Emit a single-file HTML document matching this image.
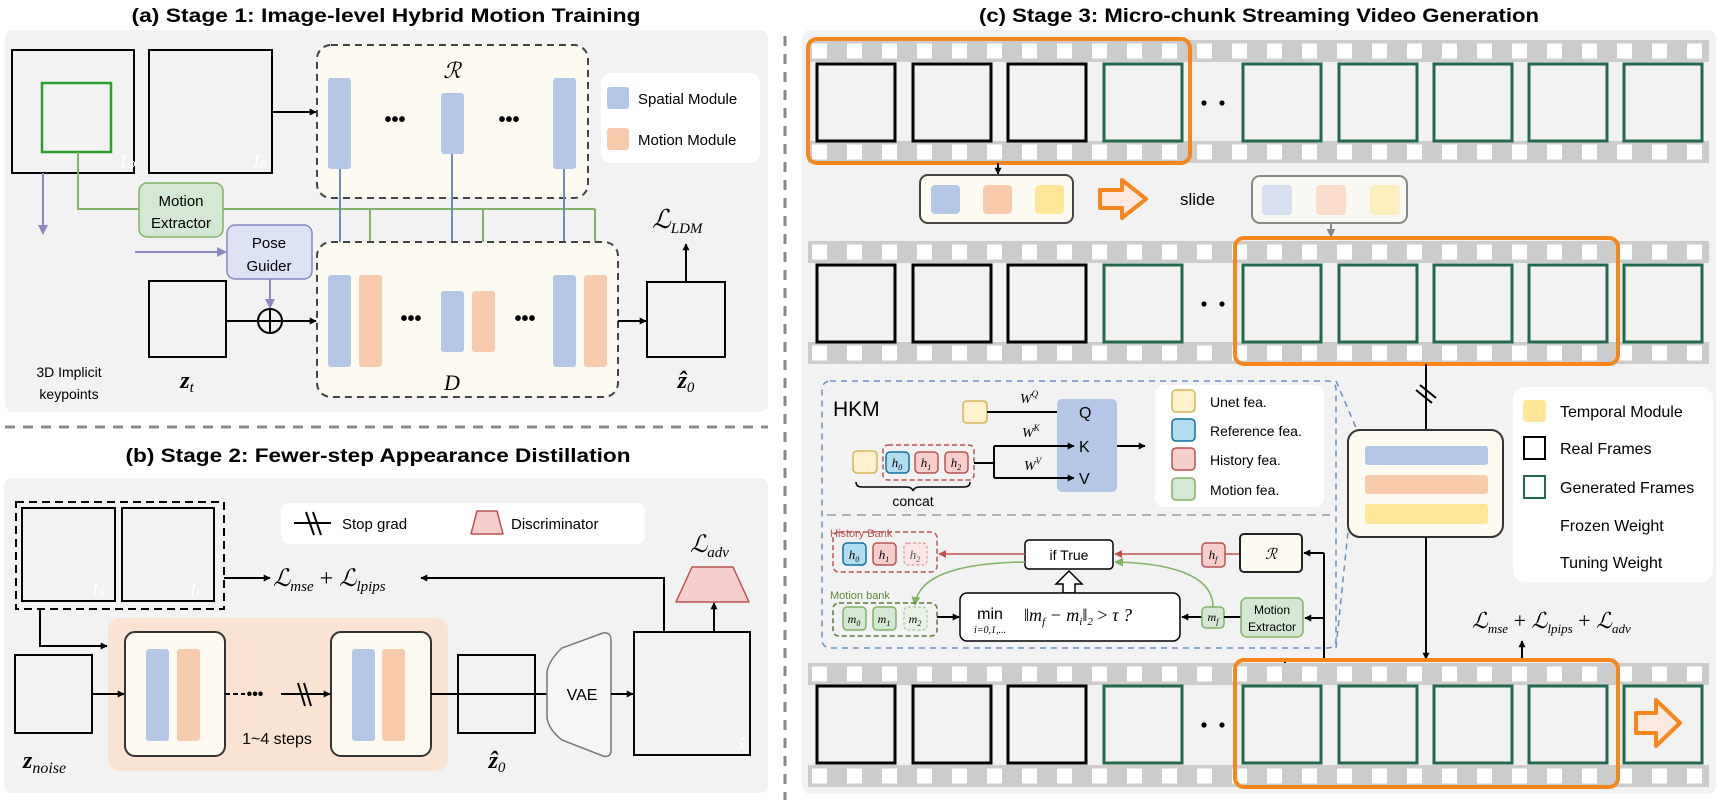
<!DOCTYPE html>
<html><head><meta charset="utf-8">
<style>
html,body{margin:0;padding:0;background:#fff;}
svg{display:block;}
text{font-family:"Liberation Sans",sans-serif;}
.m{font-family:"Liberation Serif",serif;font-style:italic;}
</style></head>
<body>
<svg width="1721" height="805" viewBox="0 0 1721 805" xmlns="http://www.w3.org/2000/svg">
<defs>
<marker id="ak" viewBox="0 0 10 10" refX="9" refY="5" markerWidth="7" markerHeight="7" orient="auto-start-reverse" markerUnits="userSpaceOnUse"><path d="M0,0L10,5L0,10z" fill="#000"/></marker>
<marker id="ab" viewBox="0 0 10 10" refX="9" refY="5" markerWidth="9" markerHeight="9" orient="auto" markerUnits="userSpaceOnUse"><path d="M0,0L10,5L0,10z" fill="#6c8ebf"/></marker>
<marker id="ag" viewBox="0 0 10 10" refX="9" refY="5" markerWidth="9" markerHeight="9" orient="auto" markerUnits="userSpaceOnUse"><path d="M0,0L10,5L0,10z" fill="#82b366"/></marker>
<marker id="ap" viewBox="0 0 10 10" refX="9" refY="5" markerWidth="10" markerHeight="10" orient="auto" markerUnits="userSpaceOnUse"><path d="M0,0L10,5L0,10z" fill="#8c88c2"/></marker>
<marker id="ar" viewBox="0 0 10 10" refX="9" refY="5" markerWidth="8" markerHeight="8" orient="auto" markerUnits="userSpaceOnUse"><path d="M0,0L10,5L0,10z" fill="#c0504d"/></marker>
<marker id="agr" viewBox="0 0 10 10" refX="9" refY="5" markerWidth="9" markerHeight="9" orient="auto" markerUnits="userSpaceOnUse"><path d="M0,0L10,5L0,10z" fill="#888"/></marker>
<g id="frames">
<rect x="817" y="0" width="78" height="77" fill="none" stroke="#000" stroke-width="3"/>
<rect x="913" y="0" width="78" height="77" fill="none" stroke="#000" stroke-width="3"/>
<rect x="1008" y="0" width="78" height="77" fill="none" stroke="#000" stroke-width="3"/>
<rect x="1104" y="0" width="78" height="77" fill="none" stroke="#22684a" stroke-width="3"/>
<circle cx="1204" cy="39" r="2.6" fill="#000"/><circle cx="1222" cy="39" r="2.6" fill="#000"/>
<rect x="1243" y="0" width="78" height="77" fill="none" stroke="#22684a" stroke-width="3"/>
<rect x="1339" y="0" width="78" height="77" fill="none" stroke="#22684a" stroke-width="3"/>
<rect x="1434" y="0" width="78" height="77" fill="none" stroke="#22684a" stroke-width="3"/>
<rect x="1529" y="0" width="78" height="77" fill="none" stroke="#22684a" stroke-width="3"/>
<rect x="1624" y="0" width="78" height="77" fill="none" stroke="#22684a" stroke-width="3"/>
</g>
<g id="band">
<rect x="808" y="0" width="901" height="22" fill="#cccccc"/>
<line x1="812" y1="11" x2="1709" y2="11" stroke="#fff" stroke-width="15" stroke-dasharray="15 20"/>
</g>
</defs>

<!-- Titles -->
<text x="386" y="22" text-anchor="middle" font-size="19" font-weight="bold" textLength="509" lengthAdjust="spacingAndGlyphs">(a) Stage 1: Image-level Hybrid Motion Training</text>
<text x="378" y="462" text-anchor="middle" font-size="19" font-weight="bold" textLength="505" lengthAdjust="spacingAndGlyphs">(b) Stage 2: Fewer-step Appearance Distillation</text>
<text x="1259" y="22" text-anchor="middle" font-size="19" font-weight="bold" textLength="560" lengthAdjust="spacingAndGlyphs">(c) Stage 3: Micro-chunk Streaming Video Generation</text>

<!-- separators -->
<line x1="5" y1="427" x2="768" y2="427" stroke="#888" stroke-width="3" stroke-dasharray="10 8"/>
<line x1="785" y1="36" x2="785" y2="800" stroke="#888" stroke-width="3" stroke-dasharray="10 8"/>

<!-- Panel backgrounds -->
<rect x="5" y="30" width="763" height="382" rx="8" fill="#f2f2f2"/>
<rect x="4" y="478" width="764" height="315" rx="8" fill="#f2f2f2"/>
<rect x="802" y="30" width="914" height="764" rx="8" fill="#f2f2f2"/>

<!-- ===== Panel A ===== -->
<rect x="12" y="50" width="122" height="123" fill="none" stroke="#000" stroke-width="2"/>
<rect x="42" y="83" width="69" height="69" fill="none" stroke="#2ca02c" stroke-width="2.5"/>
<text x="120" y="168" class="m" font-size="20" fill="#fff">I<tspan font-size="12">D</tspan></text>
<rect x="149" y="50" width="123" height="123" fill="none" stroke="#000" stroke-width="2"/>
<text x="253" y="168" class="m" font-size="20" fill="#fff">I<tspan font-size="12">R</tspan></text>
<line x1="272" y1="112" x2="316" y2="112" stroke="#000" stroke-width="2" marker-end="url(#ak)"/>

<rect x="317" y="45" width="271" height="153" rx="14" fill="#fdfaf2" stroke="#444" stroke-width="2" stroke-dasharray="7 5"/>
<text x="452" y="78" text-anchor="middle" font-family="DejaVu Serif" font-size="22" font-style="italic">ℛ</text>
<rect x="328" y="78" width="23" height="91" rx="3" fill="#b4c7e7"/>
<rect x="441" y="93" width="23" height="61" rx="3" fill="#b4c7e7"/>
<rect x="553" y="78" width="23" height="91" rx="3" fill="#b4c7e7"/>
<text x="395" y="126" text-anchor="middle" font-size="20" font-weight="bold">•••</text>
<text x="509" y="126" text-anchor="middle" font-size="20" font-weight="bold">•••</text>
<!-- dots drawn smaller -->

<rect x="601" y="73" width="159" height="90" rx="10" fill="#fff"/>
<rect x="607" y="87" width="22" height="22" rx="3" fill="#b4c7e7"/>
<text x="638" y="104" font-size="15">Spatial Module</text>
<rect x="607" y="128" width="22" height="22" rx="3" fill="#f8cbad"/>
<text x="638" y="145" font-size="15">Motion Module</text>

<!-- green lines -->
<polyline points="78,152 78,209 139,209" fill="none" stroke="#82b366" stroke-width="2"/>
<line x1="223" y1="209" x2="595" y2="209" stroke="#82b366" stroke-width="2"/>
<line x1="370" y1="209" x2="370" y2="274" stroke="#82b366" stroke-width="2" marker-end="url(#ag)"/>
<line x1="483" y1="209" x2="483" y2="290" stroke="#82b366" stroke-width="2" marker-end="url(#ag)"/>
<line x1="595" y1="209" x2="595" y2="274" stroke="#82b366" stroke-width="2" marker-end="url(#ag)"/>
<!-- blue lines -->
<line x1="340" y1="169" x2="340" y2="274" stroke="#6c8ebf" stroke-width="2" marker-end="url(#ab)"/>
<line x1="452" y1="154" x2="452" y2="290" stroke="#6c8ebf" stroke-width="2" marker-end="url(#ab)"/>
<line x1="564" y1="169" x2="564" y2="274" stroke="#6c8ebf" stroke-width="2" marker-end="url(#ab)"/>

<rect x="139" y="183" width="84" height="54" rx="8" fill="#d5e8d4" stroke="#82b366" stroke-width="1.5"/>
<text x="181" y="206" text-anchor="middle" font-size="15">Motion</text>
<text x="181" y="228" text-anchor="middle" font-size="15">Extractor</text>

<line x1="43" y1="173" x2="43" y2="234" stroke="#8c88c2" stroke-width="2" marker-end="url(#ap)"/>
<line x1="135" y1="252" x2="226" y2="252" stroke="#8c88c2" stroke-width="2" marker-end="url(#ap)"/>
<rect x="227" y="225" width="85" height="54" rx="8" fill="#dde3f5" stroke="#8c88c2" stroke-width="1.5"/>
<text x="269" y="248" text-anchor="middle" font-size="15">Pose</text>
<text x="269" y="271" text-anchor="middle" font-size="15">Guider</text>
<line x1="270" y1="279" x2="270" y2="308" stroke="#8c88c2" stroke-width="2" marker-end="url(#ap)"/>

<rect x="149" y="281" width="77" height="76" fill="none" stroke="#000" stroke-width="2"/>
<line x1="226" y1="321" x2="316" y2="321" stroke="#000" stroke-width="2" marker-end="url(#ak)"/>
<ellipse cx="270" cy="321" rx="12" ry="12" fill="none" stroke="#000" stroke-width="2"/>
<line x1="270" y1="309" x2="270" y2="333" stroke="#000" stroke-width="2"/>

<rect x="317" y="242" width="301" height="155" rx="14" fill="#fdfaf2" stroke="#444" stroke-width="2" stroke-dasharray="7 5"/>
<rect x="328" y="275" width="23" height="92" rx="3" fill="#b4c7e7"/>
<rect x="359" y="275" width="23" height="92" rx="3" fill="#f8cbad"/>
<rect x="441" y="291" width="23" height="61" rx="3" fill="#b4c7e7"/>
<rect x="472" y="291" width="23" height="61" rx="3" fill="#f8cbad"/>
<rect x="553" y="275" width="23" height="92" rx="3" fill="#b4c7e7"/>
<rect x="584" y="275" width="23" height="92" rx="3" fill="#f8cbad"/>
<text x="411" y="325" text-anchor="middle" font-size="20" font-weight="bold">•••</text>
<text x="525" y="325" text-anchor="middle" font-size="20" font-weight="bold">•••</text>
<text x="452" y="390" text-anchor="middle" class="m" font-size="22">D</text>

<line x1="618" y1="321" x2="646" y2="321" stroke="#000" stroke-width="2" marker-end="url(#ak)"/>
<rect x="647" y="282" width="78" height="75" fill="none" stroke="#000" stroke-width="2"/>
<line x1="686" y1="282" x2="686" y2="244" stroke="#000" stroke-width="2" marker-end="url(#ak)"/>
<text x="652" y="228" class="m" font-size="26">ℒ<tspan font-size="15" dy="5">LDM</tspan></text>

<text x="69" y="377" text-anchor="middle" font-size="14">3D Implicit</text>
<text x="69" y="399" text-anchor="middle" font-size="14">keypoints</text>
<text x="187" y="388" text-anchor="middle" class="m" font-size="24" font-weight="bold">z<tspan font-size="15" dy="4" font-weight="normal">t</tspan></text>
<text x="686" y="388" text-anchor="middle" class="m" font-size="24" font-weight="bold">ẑ<tspan font-size="15" dy="4" font-weight="normal">0</tspan></text>

<!-- ===== Panel B ===== -->
<rect x="16" y="502" width="208" height="107" fill="none" stroke="#000" stroke-width="2" stroke-dasharray="8 5"/>
<rect x="22" y="508" width="93" height="93" fill="none" stroke="#000" stroke-width="2"/>
<rect x="122" y="508" width="92" height="93" fill="none" stroke="#000" stroke-width="2"/>
<text x="92" y="596" class="m" font-size="18" fill="#fff">I<tspan font-size="11">R</tspan></text>
<text x="190" y="596" class="m" font-size="18" fill="#fff">I<tspan font-size="11">D</tspan></text>
<line x1="224" y1="578" x2="270" y2="578" stroke="#000" stroke-width="2" marker-end="url(#ak)"/>
<text x="273" y="586" class="m" font-size="24">ℒ<tspan font-size="15" dy="5">mse</tspan><tspan dy="-5" font-style="normal"> + </tspan>ℒ<tspan font-size="15" dy="5">lpips</tspan></text>
<polyline points="664,632 664,578 421,578" fill="none" stroke="#000" stroke-width="2" marker-end="url(#ak)"/>

<rect x="281" y="503" width="364" height="41" rx="8" fill="#fff"/>
<line x1="294" y1="523" x2="331" y2="523" stroke="#000" stroke-width="2"/>
<line x1="306" y1="512" x2="314" y2="535" stroke="#000" stroke-width="2"/>
<line x1="313" y1="512" x2="321" y2="535" stroke="#000" stroke-width="2"/>
<text x="342" y="529" font-size="15">Stop grad</text>
<path d="M477,511 L497,511 L503,534 L471,534 Z" fill="#f8cecc" stroke="#b85450" stroke-width="1.5" stroke-linejoin="round"/>
<text x="511" y="529" font-size="15">Discriminator</text>

<polyline points="40,609 40,646 107,646" fill="none" stroke="#000" stroke-width="2" marker-end="url(#ak)"/>
<rect x="108" y="618" width="340" height="153" rx="12" fill="#fbe3d3"/>
<rect x="15" y="655" width="77" height="78" fill="none" stroke="#000" stroke-width="2"/>
<line x1="92" y1="694" x2="124" y2="694" stroke="#000" stroke-width="2" marker-end="url(#ak)"/>
<rect x="125" y="632" width="100" height="124" rx="10" fill="#fdfaf2" stroke="#333" stroke-width="2"/>
<rect x="146" y="649" width="23" height="92" rx="3" fill="#b4c7e7"/>
<rect x="177" y="649" width="23" height="92" rx="3" fill="#f8cbad"/>
<line x1="225" y1="694" x2="245" y2="694" stroke="#000" stroke-width="2" stroke-dasharray="5 3"/>
<text x="255" y="699" text-anchor="middle" font-size="16" font-weight="bold">•••</text>
<line x1="281" y1="694" x2="330" y2="694" stroke="#000" stroke-width="2" marker-end="url(#ak)"/>
<line x1="298" y1="683" x2="305" y2="706" stroke="#000" stroke-width="2"/>
<line x1="304" y1="683" x2="311" y2="706" stroke="#000" stroke-width="2"/>
<rect x="331" y="632" width="100" height="124" rx="10" fill="#fdfaf2" stroke="#333" stroke-width="2"/>
<rect x="352" y="649" width="23" height="92" rx="3" fill="#b4c7e7"/>
<rect x="382" y="649" width="23" height="92" rx="3" fill="#f8cbad"/>
<text x="277" y="744" text-anchor="middle" font-size="16">1~4 steps</text>

<line x1="431" y1="694" x2="548" y2="694" stroke="#000" stroke-width="2"/>
<rect x="458" y="655" width="77" height="78" fill="none" stroke="#000" stroke-width="2"/>
<path d="M547,672 Q549,660 562,648 L603,633 Q611,632 611,640 L611,750 Q611,758 603,756 L562,740 Q549,730 547,718 Z" fill="#f6f6f6" stroke="#777" stroke-width="1.5"/>
<text x="582" y="700" text-anchor="middle" font-size="16">VAE</text>
<line x1="611" y1="694" x2="633" y2="694" stroke="#000" stroke-width="2" marker-end="url(#ak)"/>
<rect x="634" y="632" width="116" height="123" fill="none" stroke="#000" stroke-width="2"/>
<text x="738" y="750" class="m" font-size="18" fill="#fff">x̂</text>
<line x1="714" y1="632" x2="714" y2="603" stroke="#000" stroke-width="2" marker-end="url(#ak)"/>
<path d="M692,567 L733,567 L749,602 L676,602 Z" fill="#f8cecc" stroke="#b85450" stroke-width="1.5" stroke-linejoin="round"/>
<text x="690" y="552" class="m" font-size="24">ℒ<tspan font-size="15" dy="5">adv</tspan></text>

<text x="23" y="768" class="m" font-size="24" font-weight="bold">z<tspan font-size="16" dy="5" font-weight="normal">noise</tspan></text>
<text x="497" y="768" text-anchor="middle" class="m" font-size="24" font-weight="bold">ẑ<tspan font-size="15" dy="4" font-weight="normal">0</tspan></text>

<!-- ===== Panel C ===== -->
<!-- strip 1 -->
<use href="#band" y="40"/><use href="#band" y="141"/>
<use href="#frames" y="64"/>
<rect x="808" y="39" width="382" height="124" rx="9" fill="none" stroke="#f7861c" stroke-width="4"/>
<line x1="998" y1="163" x2="998" y2="174" stroke="#000" stroke-width="2" marker-end="url(#ak)"/>
<rect x="920" y="175" width="153" height="48" rx="8" fill="#fdfaf2" stroke="#444" stroke-width="2"/>
<rect x="931" y="185" width="29" height="29" rx="4" fill="#b4c7e7"/>
<rect x="983" y="185" width="29" height="29" rx="4" fill="#f8cbad"/>
<rect x="1035" y="185" width="29" height="29" rx="4" fill="#ffe699"/>
<path d="M1100,190 L1122,190 L1122,180 L1146,199 L1122,218 L1122,208 L1100,208 Z" fill="#fde9e0" stroke="#f7861c" stroke-width="4" stroke-linejoin="round"/>
<text x="1180" y="205" font-size="17">slide</text>
<rect x="1252" y="176" width="155" height="47" rx="8" fill="#faf8f3" stroke="#888" stroke-width="2"/>
<rect x="1262" y="185" width="30" height="30" rx="4" fill="#d6dff0"/>
<rect x="1316" y="185" width="30" height="30" rx="4" fill="#f9dcca"/>
<rect x="1370" y="185" width="30" height="30" rx="4" fill="#fdeec0"/>
<line x1="1331" y1="223" x2="1331" y2="237" stroke="#888" stroke-width="2" marker-end="url(#agr)"/>

<!-- strip 2 -->
<use href="#band" y="241"/><use href="#band" y="342"/>
<use href="#frames" y="265"/>
<rect x="1235" y="238" width="383" height="126" rx="9" fill="none" stroke="#f7861c" stroke-width="4"/>

<!-- HKM -->
<rect x="822" y="381" width="514" height="267" rx="8" fill="none" stroke="#6c8ebf" stroke-width="1.5" stroke-dasharray="6 5"/>
<line x1="1336" y1="381" x2="1363" y2="444" stroke="#6c8ebf" stroke-width="1.5" stroke-dasharray="6 5"/>
<line x1="1336" y1="648" x2="1356" y2="454" stroke="#6c8ebf" stroke-width="1.5" stroke-dasharray="6 5"/>
<text x="833" y="416" font-size="21">HKM</text>
<rect x="963" y="401" width="24" height="22" rx="4" fill="#fff2cc" stroke="#d6b656" stroke-width="1.5"/>
<line x1="987" y1="412" x2="1074" y2="412" stroke="#000" stroke-width="2" marker-end="url(#ak)"/>
<text x="1020" y="403" class="m" font-size="14">W<tspan font-size="9" dy="-6">Q</tspan></text>
<rect x="1057" y="399" width="60" height="93" rx="5" fill="#b4c7e7"/>
<text x="1079" y="418" font-size="16">Q</text>
<text x="1079" y="452" font-size="16">K</text>
<text x="1079" y="484" font-size="16">V</text>
<rect x="853" y="451" width="24" height="22" rx="4" fill="#fff2cc" stroke="#d6b656" stroke-width="1.5"/>
<rect x="883" y="445" width="91" height="35" rx="5" fill="none" stroke="#b85450" stroke-width="1.5" stroke-dasharray="5 3"/>
<rect x="886" y="452" width="23" height="21" rx="4" fill="#b1ddf0" stroke="#10739e" stroke-width="1.5"/>
<rect x="915" y="452" width="23" height="21" rx="4" fill="#f8cecc" stroke="#b85450" stroke-width="1.5"/>
<rect x="945" y="452" width="23" height="21" rx="4" fill="#f8cecc" stroke="#b85450" stroke-width="1.5"/>
<text x="897" y="467" text-anchor="middle" class="m" font-size="13">h<tspan font-size="8" dy="3">0</tspan></text>
<text x="926" y="467" text-anchor="middle" class="m" font-size="13">h<tspan font-size="8" dy="3">1</tspan></text>
<text x="956" y="467" text-anchor="middle" class="m" font-size="13">h<tspan font-size="8" dy="3">2</tspan></text>
<polyline points="974,463 994,463" fill="none" stroke="#000" stroke-width="2"/>
<polyline points="994,446 994,478" fill="none" stroke="#000" stroke-width="2"/>
<line x1="994" y1="446" x2="1074" y2="446" stroke="#000" stroke-width="2" marker-end="url(#ak)"/>
<line x1="994" y1="478" x2="1074" y2="478" stroke="#000" stroke-width="2" marker-end="url(#ak)"/>
<text x="1022" y="437" class="m" font-size="14">W<tspan font-size="9" dy="-6">K</tspan></text>
<text x="1024" y="470" class="m" font-size="14">W<tspan font-size="9" dy="-6">V</tspan></text>
<path d="M856,482 Q856,487 862,487 L906,487 Q912,487 913,491 Q914,487 920,487 L964,487 Q970,487 970,482" fill="none" stroke="#000" stroke-width="1.5"/>
<text x="913" y="506" text-anchor="middle" font-size="14">concat</text>
<line x1="1117" y1="446" x2="1145" y2="446" stroke="#000" stroke-width="2" marker-end="url(#ak)"/>

<rect x="1155" y="385" width="169" height="122" rx="9" fill="#fff"/>
<rect x="1172" y="390" width="23" height="22" rx="4" fill="#fff2cc" stroke="#d6b656" stroke-width="1.5"/>
<rect x="1172" y="419" width="23" height="22" rx="4" fill="#b1ddf0" stroke="#10739e" stroke-width="1.5"/>
<rect x="1172" y="448" width="23" height="22" rx="4" fill="#f8cecc" stroke="#b85450" stroke-width="1.5"/>
<rect x="1172" y="478" width="23" height="22" rx="4" fill="#d5e8d4" stroke="#82b366" stroke-width="1.5"/>
<text x="1210" y="407" font-size="14">Unet fea.</text>
<text x="1210" y="436" font-size="14">Reference fea.</text>
<text x="1210" y="465" font-size="14">History fea.</text>
<text x="1210" y="495" font-size="14">Motion fea.</text>

<line x1="827" y1="515" x2="1330" y2="515" stroke="#999" stroke-width="1.5" stroke-dasharray="9 6"/>

<text x="830" y="537" font-size="11" fill="#b85450">History Bank</text>
<rect x="833" y="532" width="104" height="40" rx="6" fill="none" stroke="#b85450" stroke-width="1.5" stroke-dasharray="5 3"/>
<rect x="843" y="543" width="23" height="22" rx="4" fill="#b1ddf0" stroke="#10739e" stroke-width="1.5"/>
<rect x="873" y="543" width="23" height="22" rx="4" fill="#f8cecc" stroke="#b85450" stroke-width="1.5"/>
<rect x="904" y="543" width="23" height="22" rx="4" fill="#fbe6e5" stroke="#d89a98" stroke-width="1.2" stroke-dasharray="3 2"/>
<text x="854" y="559" text-anchor="middle" class="m" font-size="13">h<tspan font-size="8" dy="3">0</tspan></text>
<text x="884" y="559" text-anchor="middle" class="m" font-size="13">h<tspan font-size="8" dy="3">1</tspan></text>
<text x="915" y="559" text-anchor="middle" class="m" font-size="13" fill="#555">h<tspan font-size="8" dy="3">2</tspan></text>

<rect x="1025" y="540" width="88" height="29" rx="4" fill="#fff" stroke="#000" stroke-width="1.5"/>
<text x="1069" y="560" text-anchor="middle" font-size="14">if True</text>
<line x1="1025" y1="554" x2="939" y2="554" stroke="#c0504d" stroke-width="1.5" marker-end="url(#ar)"/>
<line x1="1240" y1="554" x2="1115" y2="554" stroke="#c0504d" stroke-width="1.5" marker-end="url(#ar)"/>
<rect x="1202" y="543" width="23" height="24" rx="4" fill="#f8cecc" stroke="#b85450" stroke-width="1.5"/>
<text x="1213" y="559" text-anchor="middle" class="m" font-size="13">h<tspan font-size="8" dy="3">f</tspan></text>
<rect x="1240" y="534" width="62" height="38" rx="4" fill="#fdfaf2" stroke="#222" stroke-width="2"/>
<text x="1271" y="559" text-anchor="middle" font-family="DejaVu Serif" font-size="15" font-style="italic">ℛ</text>

<path d="M1213,607 C1213,575 1170,563 1115,562" fill="none" stroke="#82b366" stroke-width="1.5" marker-end="url(#ag)"/>
<path d="M1025,562 C960,563 918,575 915,605" fill="none" stroke="#82b366" stroke-width="1.5" marker-end="url(#ag)"/>
<path d="M1063,593 L1063,584 L1056,584 L1069,571 L1082,584 L1075,584 L1075,593 Z" fill="#fff" stroke="#000" stroke-width="1.5"/>

<text x="830" y="599" font-size="11" fill="#5a8a3a">Motion bank</text>
<rect x="833" y="603" width="104" height="33" rx="6" fill="none" stroke="#5a7a3a" stroke-width="1.5" stroke-dasharray="5 3"/>
<rect x="843" y="607" width="23" height="23" rx="4" fill="#d5e8d4" stroke="#82b366" stroke-width="1.5"/>
<rect x="873" y="607" width="23" height="23" rx="4" fill="#d5e8d4" stroke="#82b366" stroke-width="1.5"/>
<rect x="904" y="607" width="23" height="23" rx="4" fill="#e8f2e7" stroke="#a8c898" stroke-width="1.2" stroke-dasharray="3 2"/>
<text x="854" y="623" text-anchor="middle" class="m" font-size="12">m<tspan font-size="8" dy="3">0</tspan></text>
<text x="884" y="623" text-anchor="middle" class="m" font-size="12">m<tspan font-size="8" dy="3">1</tspan></text>
<text x="915" y="623" text-anchor="middle" class="m" font-size="12">m<tspan font-size="8" dy="3">2</tspan></text>
<line x1="937" y1="617" x2="959" y2="617" stroke="#000" stroke-width="2" marker-end="url(#ak)"/>
<rect x="960" y="593" width="220" height="48" rx="7" fill="#fff" stroke="#000" stroke-width="1.5"/>
<text x="990" y="619" text-anchor="middle" font-family="Liberation Serif" font-size="16">min</text>
<text x="990" y="633" text-anchor="middle" class="m" font-size="10">i=0,1,...</text>
<text x="1024" y="621" class="m" font-size="18">‖m<tspan font-size="11" dy="4">f</tspan><tspan dy="-4"> − m</tspan><tspan font-size="11" dy="4">i</tspan><tspan dy="-4">‖</tspan><tspan font-size="11" dy="4">2</tspan><tspan dy="-4" font-style="normal"> &gt; </tspan>τ ?</text>
<line x1="1202" y1="617" x2="1182" y2="617" stroke="#000" stroke-width="2" marker-end="url(#ak)"/>
<rect x="1202" y="607" width="22" height="21" rx="4" fill="#d5e8d4" stroke="#82b366" stroke-width="1.5"/>
<text x="1213" y="621" text-anchor="middle" class="m" font-size="12">m<tspan font-size="8" dy="3">f</tspan></text>
<line x1="1241" y1="617" x2="1224" y2="617" stroke="#000" stroke-width="2"/>
<rect x="1241" y="598" width="62" height="39" rx="6" fill="#d5e8d4" stroke="#82b366" stroke-width="1.5"/>
<text x="1272" y="614" text-anchor="middle" font-size="12">Motion</text>
<text x="1272" y="631" text-anchor="middle" font-size="12">Extractor</text>

<polyline points="1285,686 1285,660 1324,660 1324,553" fill="none" stroke="#000" stroke-width="2"/>
<line x1="1324" y1="553" x2="1304" y2="553" stroke="#000" stroke-width="2" marker-end="url(#ak)"/>
<line x1="1324" y1="618" x2="1305" y2="618" stroke="#000" stroke-width="2" marker-end="url(#ak)"/>

<!-- temporal -->
<line x1="1426" y1="364" x2="1426" y2="430" stroke="#000" stroke-width="2"/>
<line x1="1416" y1="390" x2="1432" y2="403" stroke="#000" stroke-width="2"/>
<line x1="1420" y1="385" x2="1436" y2="398" stroke="#000" stroke-width="2"/>
<rect x="1348" y="430" width="155" height="107" rx="12" fill="#fdfaf2" stroke="#333" stroke-width="2"/>
<rect x="1365" y="446" width="123" height="19" rx="3" fill="#b4c7e7"/>
<rect x="1365" y="475" width="123" height="19" rx="3" fill="#f8cbad"/>
<rect x="1365" y="504" width="123" height="20" rx="3" fill="#ffe699"/>
<line x1="1426" y1="537" x2="1426" y2="659" stroke="#000" stroke-width="2" marker-end="url(#ak)"/>

<rect x="1513" y="387" width="200" height="195" rx="12" fill="#fff"/>
<rect x="1523" y="400" width="23" height="22" rx="3" fill="#ffe699"/>
<text x="1560" y="417" font-size="16">Temporal Module</text>
<rect x="1524" y="437" width="21" height="22" fill="none" stroke="#000" stroke-width="2"/>
<text x="1560" y="454" font-size="16">Real Frames</text>
<rect x="1524" y="476" width="21" height="22" fill="none" stroke="#22684a" stroke-width="2"/>
<text x="1560" y="493" font-size="16">Generated Frames</text>
<text x="1560" y="531" font-size="16">Frozen Weight</text>
<text x="1560" y="568" font-size="16">Tuning Weight</text>

<line x1="1522" y1="660" x2="1522" y2="641" stroke="#000" stroke-width="2" marker-end="url(#ak)"/>
<text x="1472" y="628" class="m" font-size="22">ℒ<tspan font-size="13" dy="5">mse</tspan><tspan dy="-5" font-style="normal"> + </tspan>ℒ<tspan font-size="13" dy="5">lpips</tspan><tspan dy="-5" font-style="normal"> + </tspan>ℒ<tspan font-size="13" dy="5">adv</tspan></text>

<!-- strip 3 -->
<use href="#band" y="663"/><use href="#band" y="765"/>
<use href="#frames" y="686"/>
<rect x="1235" y="660" width="383" height="127" rx="9" fill="none" stroke="#f7861c" stroke-width="4"/>
<path d="M1636,713 L1656,713 L1656,700 L1680,723 L1656,746 L1656,733 L1636,733 Z" fill="#fde9e0" stroke="#f7861c" stroke-width="4" stroke-linejoin="round"/>
</svg>
</body></html>
